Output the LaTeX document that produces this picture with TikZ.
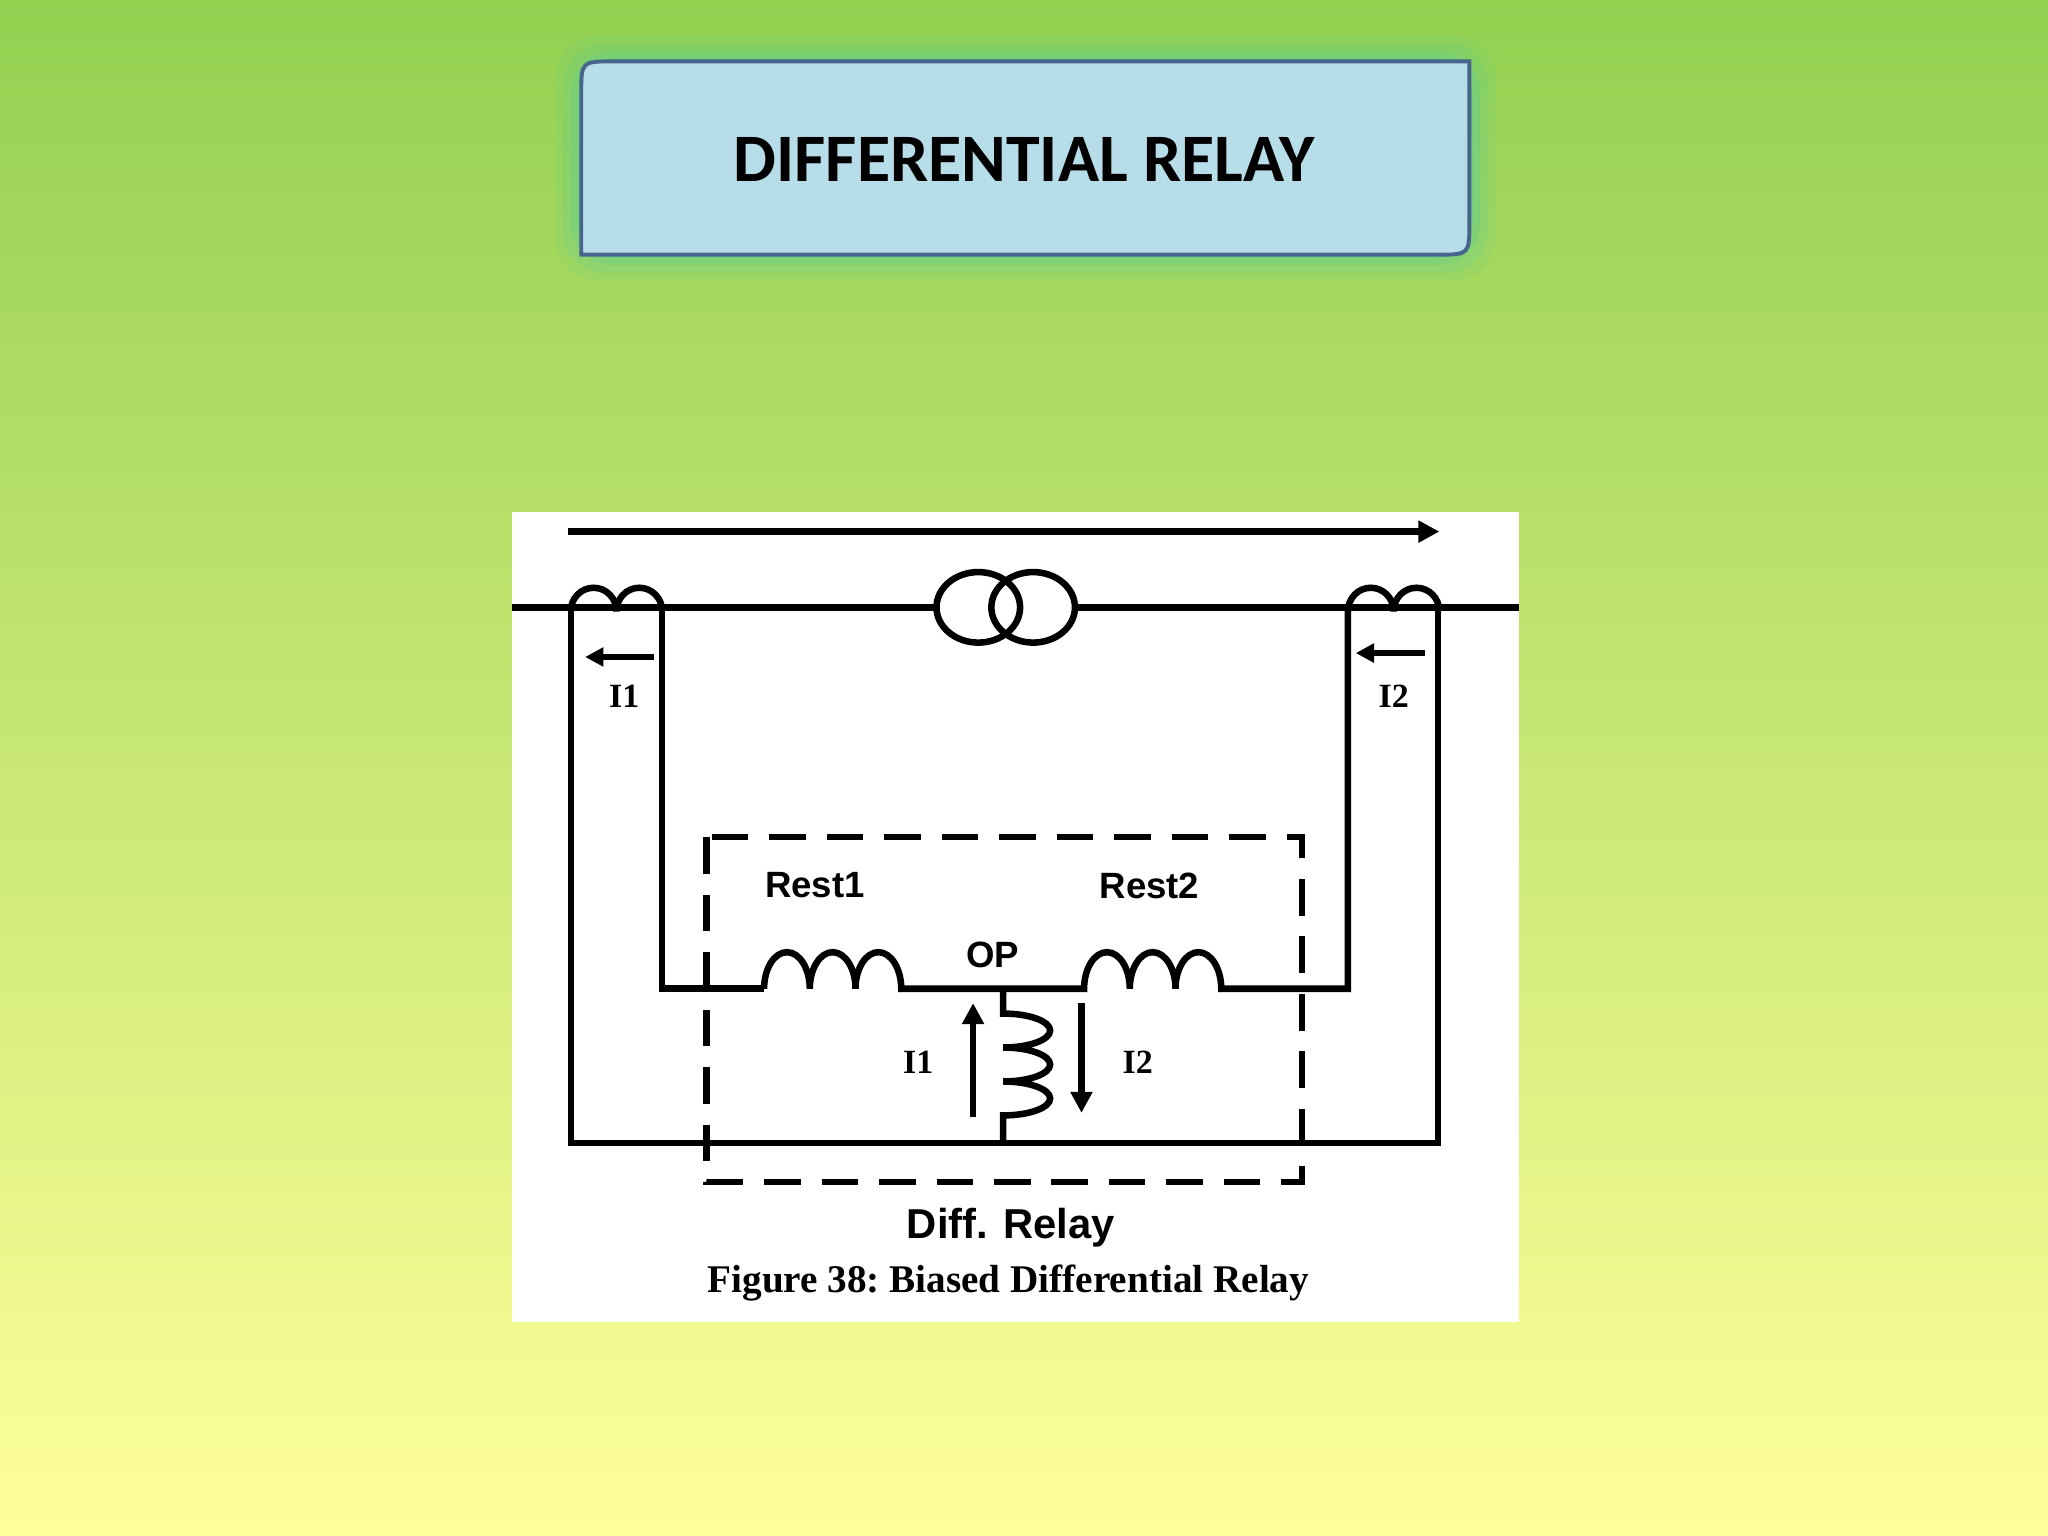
\documentclass[tikz,border=0pt]{standalone}
\usepackage{fontspec}
\setmainfont{Liberation Serif}
\newfontfamily\arialf{Liberation Sans}
\newfontfamily\calf{Carlito}
\usetikzlibrary{arrows.meta}
\definecolor{bgtop}{RGB}{146,208,80}
\definecolor{bgbot}{RGB}{255,255,153}
\definecolor{glowc}{RGB}{90,205,150}
\definecolor{titleb}{RGB}{70,100,140}
\definecolor{titlef}{RGB}{183,221,232}
\tikzset{wire/.style={line width=2.5pt},
 arr/.style={line width=2.5pt,-{Triangle[length=8pt,width=8pt]}},
 sanslbl/.style={font=\arialf\bfseries\fontsize{14}{16}\selectfont},
 seriflbl/.style={font=\bfseries\fontsize{13}{15}\selectfont}}
\begin{document}
\begin{tikzpicture}[x=0.5pt,y=-0.5pt]
\useasboundingbox (0,0) rectangle (1568,1176);
\shade[top color=bgtop,bottom color=bgbot] (0,0) rectangle (1568,1176);
% title glow
\foreach \d/\o in {20/0.12,14/0.18,8/0.25,3/0.35}
  \fill[rounded corners=16pt,glowc,opacity=\o] (445-\d,47-\d) rectangle (1125+\d,195+\d);
\draw[line width=1.5pt,draw=titleb,fill=titlef]
  (445,195) -- (445,72) .. controls (445,47) .. (470,47) -- (1125,47) -- (1125,170)
  .. controls (1125,195) .. (1100,195) -- cycle;
\node[font=\calf\bfseries\fontsize{26}{30}\selectfont] (title) at (784,122) {DIFFERENTIAL RELAY};
% panel
\fill[white] (392,392) rectangle (1163,1012);
\draw[arr] (435,407) -- (1102,407);
% bus and transformer
\draw[wire] (392,465) -- (718,465);
\draw[wire] (822,465) -- (1163,465);
\draw[wire] (749,465) ellipse[x radius=32,y radius=27];
\draw[wire] (791,465) ellipse[x radius=32,y radius=27];
% CTs
\draw[wire] (437,468) arc[start angle=180,end angle=360,x radius=17.5,y radius=18]
  arc[start angle=180,end angle=360,x radius=17.5,y radius=18];
\draw[wire] (1032,468) arc[start angle=180,end angle=360,x radius=17.5,y radius=18]
  arc[start angle=180,end angle=360,x radius=17.5,y radius=18];
% wires
\draw[wire] (437,465) -- (437,875) -- (1101,875) -- (1101,465);
\draw[wire] (507,465) -- (507,757) -- (585,757);
\draw[wire] (585,757) arc[start angle=180,end angle=360,x radius=17.5,y radius=28]
  arc[start angle=180,end angle=360,x radius=17.5,y radius=28]
  arc[start angle=180,end angle=360,x radius=17.5,y radius=28] -- (830,757)
  arc[start angle=180,end angle=360,x radius=17.5,y radius=28]
  arc[start angle=180,end angle=360,x radius=17.5,y radius=28]
  arc[start angle=180,end angle=360,x radius=17.5,y radius=28] -- (1032,757) -- (1032,465);
\draw[wire] (768,757) -- (768,776)
  arc[start angle=-90,end angle=90,x radius=36,y radius=13]
  arc[start angle=-90,end angle=90,x radius=36,y radius=13]
  arc[start angle=-90,end angle=90,x radius=36,y radius=13] -- (768,875);
% dashed box
\draw[line width=2.5pt,dash pattern=on 14pt off 8pt] (541,641) rectangle (997,905);
% small arrows
\draw[line width=2.5pt,-{Triangle[length=7pt,width=7pt]}] (501,503) -- (448,503);
\draw[line width=2.5pt,-{Triangle[length=7pt,width=7pt]}] (1091,500) -- (1038,500);
\draw[arr] (745,855) -- (745,768);
\draw[arr] (828,768) -- (828,852);
% labels
\node[seriflbl] (i1a) at (478,533) {I1};
\node[seriflbl] (i2a) at (1067,533) {I2};
\node[sanslbl] (r1) at (624,678) {Rest1};
\node[sanslbl] (r2) at (880,678) {Rest2};
\node[sanslbl] (op) at (760,731) {OP};
\node[seriflbl] (i1b) at (703,813) {I1};
\node[seriflbl] (i2b) at (871,813) {I2};
\node[font=\arialf\bfseries\fontsize{16}{18}\selectfont] (dr) at (774,940) {Diff. Relay};
\node[font=\bfseries\fontsize{15}{17}\selectfont] (cap) at (772,982) {Figure 38:\ Biased Differential Relay};
\end{tikzpicture}
\end{document}
